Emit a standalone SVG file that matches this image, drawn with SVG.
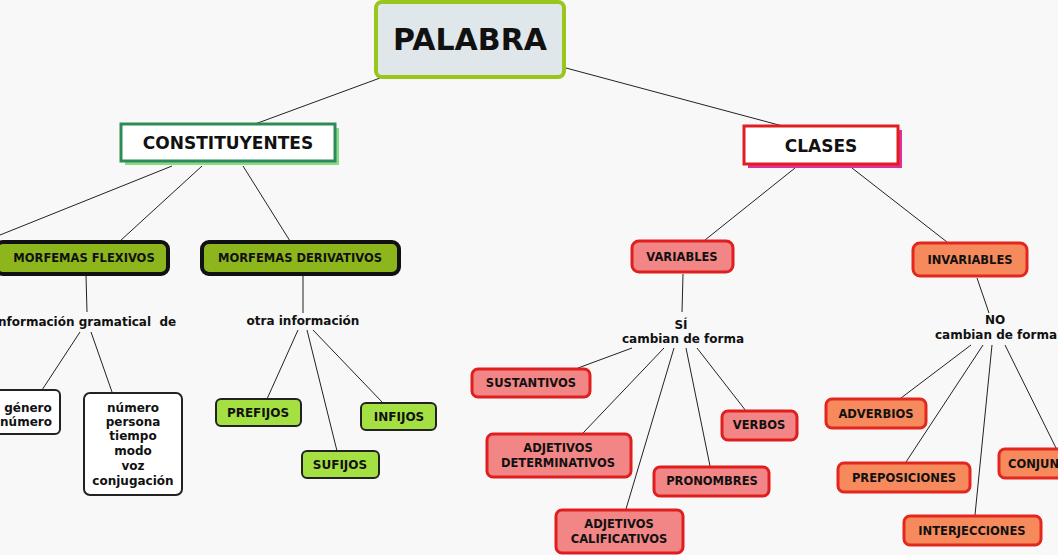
<svg xmlns="http://www.w3.org/2000/svg" width="1058" height="555" viewBox="0 0 1058 555">
<style>
text{font-family:"DejaVu Sans",Verdana,sans-serif;font-weight:bold;fill:#111;text-anchor:middle}
.s{font-size:11.5px}
.l{font-size:12px}
.fl{fill:#8db51c;stroke:#111;stroke-width:4}
.lime{fill:#a5e043;stroke:#222;stroke-width:2}
.wh{fill:#fff;stroke:#222;stroke-width:2}
.var{fill:#f28686;stroke:#e01e1e;stroke-width:3}
.inv{fill:#f68a5c;stroke:#e3261e;stroke-width:3}
#connectors line{stroke:#222;stroke-width:1}
</style>
<rect width="1058" height="555" fill="#f8f8f8"/>
<g id="connectors">
<line x1="380" y1="78" x2="255" y2="124"/>
<line x1="566" y1="68" x2="790" y2="128"/>
<line x1="172" y1="166" x2="0" y2="235"/>
<line x1="202" y1="166" x2="120" y2="241"/>
<line x1="243" y1="166" x2="290" y2="241"/>
<line x1="795" y1="168" x2="705" y2="240"/>
<line x1="852" y1="168" x2="947" y2="242"/>
<line x1="86" y1="275" x2="87" y2="312"/>
<line x1="80" y1="332" x2="42" y2="390"/>
<line x1="91" y1="332" x2="112" y2="392"/>
<line x1="303" y1="275" x2="303" y2="313"/>
<line x1="298" y1="330" x2="267" y2="399"/>
<line x1="307" y1="330" x2="337" y2="451"/>
<line x1="313" y1="330" x2="383" y2="403"/>
<line x1="683" y1="274" x2="682" y2="312"/>
<line x1="632" y1="348" x2="578" y2="368"/>
<line x1="664" y1="348" x2="583" y2="433"/>
<line x1="674" y1="348" x2="626" y2="509"/>
<line x1="686" y1="348" x2="710" y2="466"/>
<line x1="697" y1="348" x2="746" y2="411"/>
<line x1="977" y1="278" x2="989" y2="313"/>
<line x1="971" y1="345" x2="901" y2="398"/>
<line x1="983" y1="345" x2="906" y2="462"/>
<line x1="992" y1="345" x2="975" y2="515"/>
<line x1="1005" y1="345" x2="1058" y2="452"/>
</g>
<g id="palabra"><rect x="376" y="2" width="188" height="75" rx="6" fill="#dfe7ea" stroke="#98c61a" stroke-width="4"/><text x="470" y="50" style="font-size:30px">PALABRA</text></g>
<g id="constituyentes"><rect x="125" y="128" width="214" height="37" fill="#8bd98b"/><rect x="121" y="124" width="214" height="37" fill="#fff" stroke="#2e8b57" stroke-width="3"/><text x="228" y="149" style="font-size:17px">CONSTITUYENTES</text></g>
<g id="clases"><rect x="748" y="130" width="154" height="38" fill="#e0309a"/><rect x="744" y="126" width="154" height="38" fill="#fff" stroke="#e01e1e" stroke-width="3"/><text x="821" y="152" style="font-size:17px">CLASES</text></g>
<g id="flexivos"><rect x="-4" y="242" width="172" height="32" rx="7" class="fl"/><text x="84" y="262" class="s">MORFEMAS FLEXIVOS</text></g>
<g id="derivativos"><rect x="202" y="242" width="197" height="32" rx="7" class="fl"/><text x="300" y="262" class="s">MORFEMAS DERIVATIVOS</text></g>
<g id="info"><text x="85" y="326" class="l" xml:space="preserve">información gramatical  de</text></g>
<g id="genero"><rect x="-10" y="390" width="70" height="44" rx="5" class="wh"/><text x="28" y="412" class="l">género</text><text x="26" y="426" class="l">número</text></g>
<g id="numero"><rect x="84" y="393" width="98" height="102" rx="6" class="wh"/><text x="133" y="412" class="l">número</text><text x="133" y="426" class="l">persona</text><text x="133" y="440" class="l">tiempo</text><text x="133" y="455" class="l">modo</text><text x="133" y="470" class="l">voz</text><text x="133" y="485" class="l">conjugación</text></g>
<g id="otra"><text x="303" y="325" class="l">otra información</text></g>
<g id="prefijos"><rect x="216" y="399" width="85" height="27" rx="5" class="lime"/><text x="258" y="417" class="l">PREFIJOS</text></g>
<g id="sufijos"><rect x="302" y="451" width="77" height="27" rx="5" class="lime"/><text x="340" y="469" class="l">SUFIJOS</text></g>
<g id="infijos"><rect x="361" y="403" width="75" height="27" rx="5" class="lime"/><text x="399" y="421" class="l">INFIJOS</text></g>
<g id="variables"><rect x="632" y="241" width="101" height="31" rx="7" class="var"/><text x="682" y="261" class="s">VARIABLES</text></g>
<g id="si"><text x="681" y="329" class="l">SÍ</text><text x="683" y="343" class="l">cambian de forma</text></g>
<g id="sustantivos"><rect x="472" y="369" width="118" height="28" rx="6" class="var"/><text x="531" y="387" class="s">SUSTANTIVOS</text></g>
<g id="adjdet"><rect x="487" y="434" width="144" height="43" rx="6" class="var"/><text x="558" y="452" class="s">ADJETIVOS</text><text x="558" y="467" class="s">DETERMINATIVOS</text></g>
<g id="verbos"><rect x="722" y="411" width="75" height="29" rx="6" class="var"/><text x="759" y="429" class="s">VERBOS</text></g>
<g id="pronombres"><rect x="654" y="467" width="115" height="29" rx="6" class="var"/><text x="712" y="485" class="s">PRONOMBRES</text></g>
<g id="adjcal"><rect x="556" y="510" width="127" height="43" rx="6" class="var"/><text x="619" y="528" class="s">ADJETIVOS</text><text x="619" y="543" class="s">CALIFICATIVOS</text></g>
<g id="invariables"><rect x="913" y="243" width="114" height="33" rx="7" class="inv"/><text x="970" y="264" class="s">INVARIABLES</text></g>
<g id="no"><text x="995" y="324" class="l">NO</text><text x="996" y="339" class="l">cambian de forma</text></g>
<g id="adverbios"><rect x="826" y="399" width="100" height="29" rx="6" class="inv"/><text x="876" y="418" class="s">ADVERBIOS</text></g>
<g id="preposiciones"><rect x="838" y="463" width="132" height="29" rx="6" class="inv"/><text x="904" y="482" class="s">PREPOSICIONES</text></g>
<g id="conjunciones"><rect x="999" y="449" width="80" height="29" rx="6" class="inv"/><text x="1008" y="468" class="s" style="text-anchor:start">CONJUNCIONES</text></g>
<g id="interjecciones"><rect x="904" y="516" width="137" height="29" rx="6" class="inv"/><text x="972" y="535" class="s">INTERJECCIONES</text></g>
</svg>
